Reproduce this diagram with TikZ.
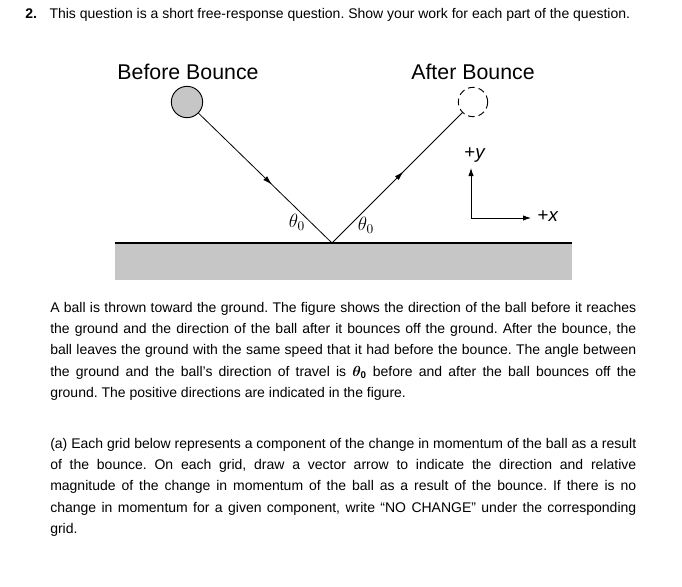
\documentclass[tikz,border=0pt]{standalone}
\usepackage{fontspec}
\usepackage{bm}
\setmainfont{Liberation Sans}
\usetikzlibrary{decorations.markings,arrows.meta}
\begin{document}
\frenchspacing
\begin{tikzpicture}[x=0.75pt,y=-0.75pt,
  para/.style={anchor=north west,text width=439.5pt,align=justify,inner sep=0pt,font=\fontsize{10.5pt}{15.9pt}\selectfont},
  midarrow/.style={postaction={decorate},decoration={markings,mark=at position #1 with {\arrow{Latex[length=7pt,width=4pt]}}}},
  lbl/.style={font=\fontsize{16pt}{18pt}\selectfont}]
\useasboundingbox (0,0) rectangle (682,586);
\node[anchor=base west,inner sep=0pt,font=\fontsize{10.5pt}{12pt}\selectfont] (q) at (25,18) {\textbf{2.}\hspace{0.9em}This question is a short free-response question. Show your work for each part of the question.};
% figure
\fill[gray!45] (115,243) rectangle (572,280);
\draw[line width=1.4pt] (115,243) -- (572,243);
\node[lbl] (bb) at (188,72) {Before Bounce};
\node[lbl] (ab) at (473,72) {After Bounce};
\node[circle,draw,line width=0.7pt,fill=gray!45,minimum size=23.5pt,inner sep=0pt] (b1) at (187,102) {};
\node[circle,draw,line width=0.7pt,dash pattern=on 5pt off 3pt,minimum size=22pt,inner sep=0pt] (b2) at (473,102) {};
\coordinate (v) at (332,243);
\draw[line width=0.6pt,midarrow=0.55] (b1) -- (v);
\draw[line width=0.6pt,midarrow=0.55] (v) -- (b2);
\node[font=\fontsize{14pt}{16pt}\selectfont] (t1) at (297,222) {$\theta_0$};
\node[font=\fontsize{14pt}{16pt}\selectfont] (t2) at (366,225) {$\theta_0$};
\coordinate (o) at (471,218);
\coordinate (yy) at (471,168);
\coordinate (xx) at (531,218);
\draw[line width=0.6pt,-{Latex[length=6pt,width=4pt]}] (o) -- (yy);
\draw[line width=0.6pt,-{Latex[length=6pt,width=4pt]}] (o) -- (xx);
\node[font=\fontsize{14pt}{16pt}\selectfont] (ly) at (475,155) {+\textit{y}};
\node[font=\fontsize{14pt}{16pt}\selectfont,anchor=west] (lx) at (533,216) {+\textit{x}};
\node[para] (p1) at (50,302) {A ball is thrown toward the ground. The figure shows the direction of the ball before it reaches\linebreak the ground and the direction of the ball after it bounces off the ground. After the bounce, the\linebreak ball leaves the ground with the same speed that it had before the bounce. The angle between\linebreak the ground and the ball's direction of travel is $\bm{\theta}_{\mathbf{0}}$ before and after the ball bounces off the\linebreak ground. The positive directions are indicated in the figure.};
\node[para] (p2) at (50,438) {(a) Each grid below represents a component of the change in momentum of the ball as a result\linebreak of the bounce. On each grid, draw a vector arrow to indicate the direction and relative\linebreak magnitude of the change in momentum of the ball as a result of the bounce. If there is no\linebreak change in momentum for a given component, write ``NO CHANGE'' under the corresponding\linebreak grid.};
\end{tikzpicture}
\end{document}
